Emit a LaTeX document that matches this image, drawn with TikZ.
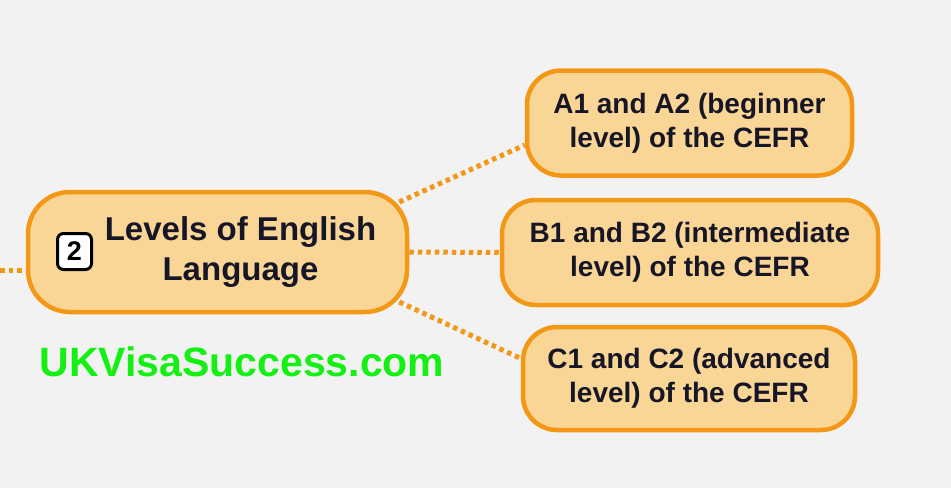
\documentclass[tikz,border=0pt]{standalone}
\usepackage{fontspec}
\setmainfont{Liberation Sans}
\usetikzlibrary{backgrounds}
\definecolor{bgpaper}{RGB}{242,242,242}
\definecolor{boxfill}{RGB}{250,214,150}
\definecolor{boxline}{RGB}{243,152,22}
\definecolor{inktext}{RGB}{22,22,38}
\definecolor{sitegreen}{RGB}{20,240,20}
\tikzset{
  topicbox/.style={draw=boxline, fill=boxfill, line width=4.5pt, rounded corners=42pt},
  childbox/.style={draw=boxline, fill=boxfill, line width=4.5pt, rounded corners=34pt,
    text=inktext, align=center, inner sep=0pt,
    font=\fontsize{28}{34}\selectfont\bfseries},
  maintext/.style={text=inktext, align=center, inner sep=0pt,
    font=\fontsize{33}{40}\selectfont\bfseries},
  badge/.style={draw=black, fill=white, line width=3pt, rounded corners=6pt,
    minimum width=34pt, minimum height=36pt, inner sep=0pt,
    font=\fontsize{27}{30}\selectfont\bfseries, text=black},
  linkline/.style={draw=boxline, line width=5pt, dash pattern=on 4.5pt off 4pt},
  sitetext/.style={text=sitegreen, inner sep=0pt, font=\fontsize{41}{48}\selectfont\bfseries}
}
\begin{document}
\begin{tikzpicture}[x=1pt,y=-1pt]
\useasboundingbox (0,0) rectangle (951,488);

\node[topicbox, minimum width=379pt, minimum height=120pt] (main) at (217.5,252) {};
\node[maintext] (maintxt) at (240.5,252) {Levels of English\\Language};
\node[badge] (num) at (74.5,251.5) {2};

\node[childbox, minimum width=325pt, minimum height=105pt] (A) at (689.5,123) {A1 and A2 (beginner\\level) of the CEFR};
\node[childbox, minimum width=376pt, minimum height=105pt] (B) at (690,252.5) {B1 and B2 (intermediate\\level) of the CEFR};
\node[childbox, minimum width=332pt, minimum height=103pt] (C) at (689,378.5) {C1 and C2 (advanced\\level) of the CEFR};

\node[sitetext] (site) at (242,362) {UKVisaSuccess.com};

\coordinate (stub) at (0,270);
\begin{scope}[on background layer]
\fill[bgpaper] (0,0) rectangle (951,488);
\draw[linkline] (stub) -- ([yshift=-18pt]main.west);
\draw[linkline] ([xshift=-10pt,yshift=50pt]main.east) -- ([yshift=-22pt]A.west);
\draw[linkline] (main.east) -- (B.west);
\draw[linkline] ([xshift=-10pt,yshift=-50pt]main.east) -- ([yshift=20pt]C.west);
\end{scope}
\end{tikzpicture}
\end{document}
